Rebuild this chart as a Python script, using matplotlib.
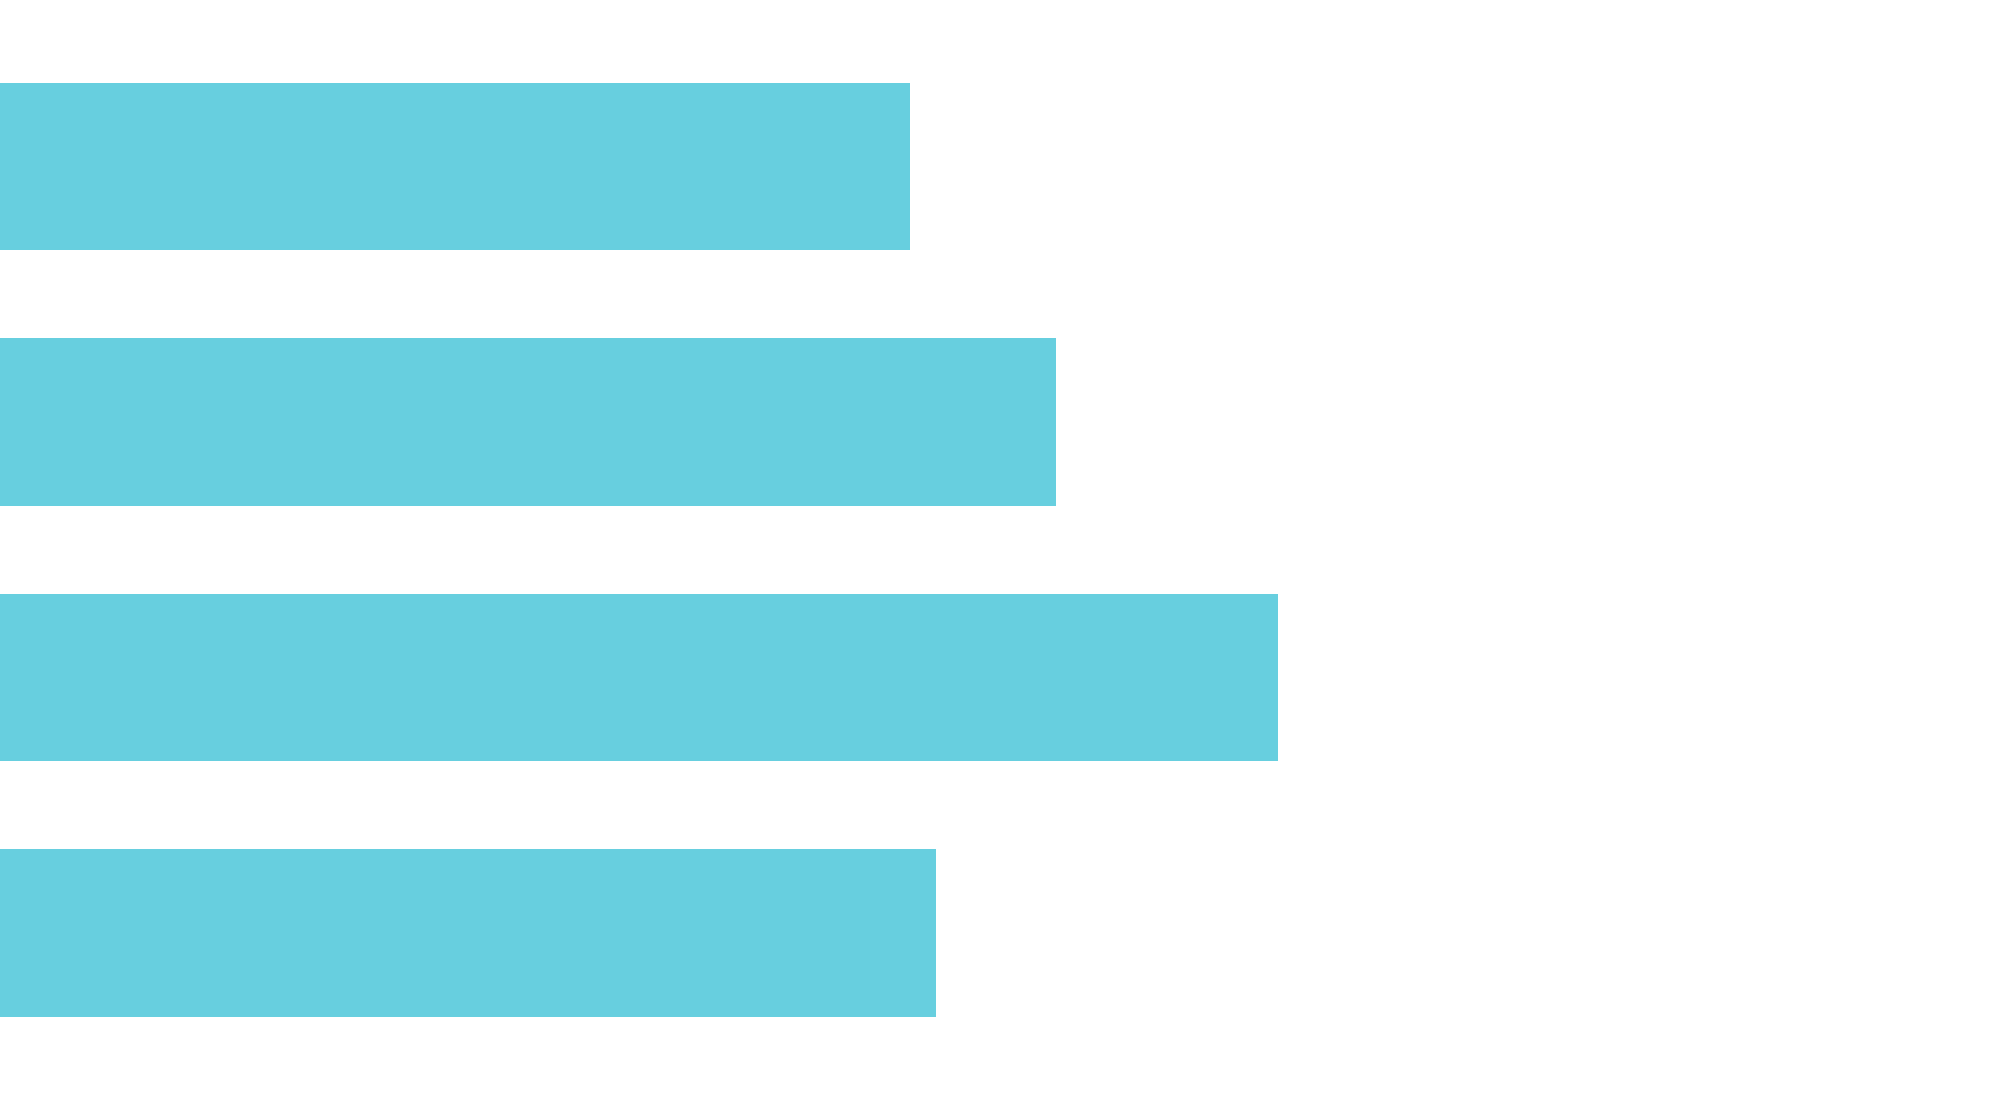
import matplotlib
matplotlib.use('Agg')
import matplotlib.pyplot as plt

# horizontal bars, no axes / labels visible in the reference
categories = ['A', 'B', 'C', 'D']
values = [45.5, 52.8, 63.9, 46.8]

bar_color = '#67cfdf'

fig = plt.figure(figsize=(20, 11), dpi=100)
ax = fig.add_axes([0, 0, 1, 1])

pos = list(range(len(categories)))
ax.barh(pos, values, height=0.657, color=bar_color, edgecolor='none')

ax.set_xlim(0, 100)
ax.set_ylim(3.654, -0.652)
ax.axis('off')

fig.savefig('out.png', dpi=100, facecolor='white')
plt.close(fig)
